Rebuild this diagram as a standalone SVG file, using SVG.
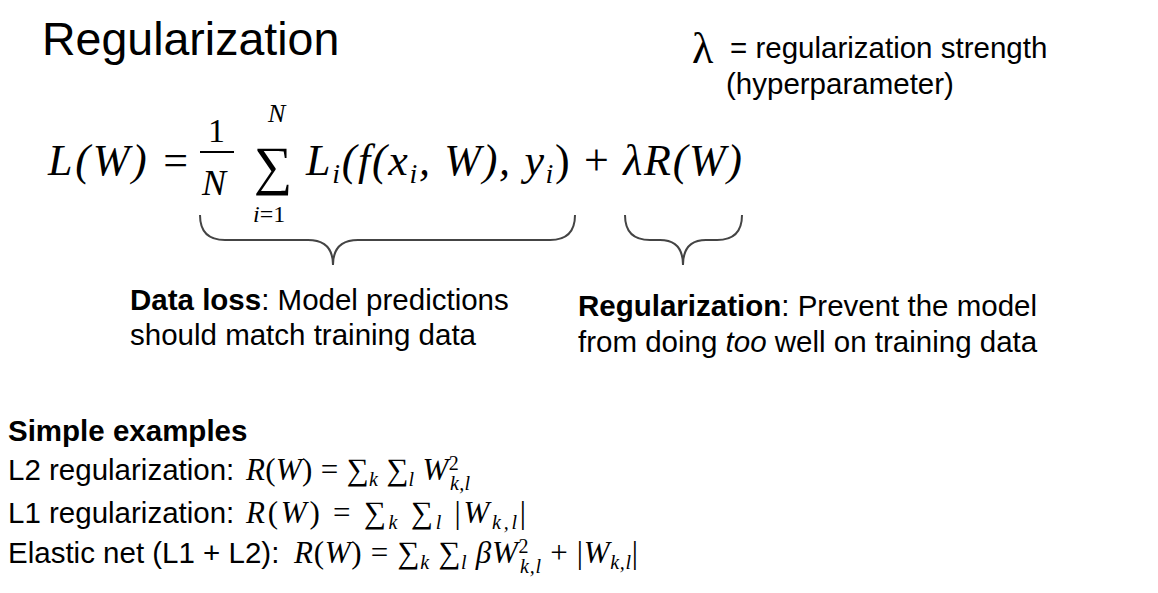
<svg xmlns="http://www.w3.org/2000/svg" width="1158" height="593" viewBox="0 0 1158 593">
<style>
.s{font-family:"Liberation Sans",Arial,sans-serif;fill:#000}
.m{font-family:"Liberation Serif","DejaVu Serif",serif;fill:#000}
.i{font-style:italic}
.b{fill:none;stroke:#444;stroke-width:2}
</style>
<rect width="1158" height="593" fill="#fff"/>
<text class="s" x="42" y="55" font-size="46.5">Regularization</text>
<g id="lambda">
<text class="m" x="692" y="63" font-size="44">λ</text>
<text class="s" x="730" y="58" font-size="29.5">= regularization strength</text>
<text class="s" x="726" y="94" font-size="29.5">(hyperparameter)</text>
</g>
<g id="formula">
<text class="m i" x="48" y="175" font-size="44" textLength="140" lengthAdjust="spacing">L(W) <tspan font-style="normal">=</tspan></text>
<text class="m" x="208" y="142" font-size="34">1</text>
<line x1="200" y1="152" x2="234" y2="152" stroke="#000" stroke-width="2"/>
<text class="m i" x="202" y="195" font-size="36">N</text>
<text class="m i" x="268" y="122" font-size="26">N</text>
<text class="m" x="254" y="184" font-size="54">∑</text>
<text class="m" x="253" y="222" font-size="24"><tspan class="i">i</tspan>=1</text>
<text class="m i" x="306" y="175" font-size="44" textLength="436" lengthAdjust="spacing">L<tspan font-size="28" dy="8">i</tspan><tspan dy="-8">(f(x</tspan><tspan font-size="28" dy="8">i</tspan><tspan dy="-8">, W), y</tspan><tspan font-size="28" dy="8">i</tspan><tspan dy="-8" font-style="normal">) + </tspan>λR(W)</text>
</g>
<g id="connectors">
<path class="b" d="M200,215 Q200,240 225,240 L308,240 Q333,240 333,265 Q333,240 358,240 L550,240 Q575,240 575,215"/>
<path class="b" d="M625,215 Q625,240 650,240 L660,240 Q683,240 683,265 Q683,240 706,240 L717,240 Q742,240 742,215"/>
</g>
<g id="dataloss">
<text class="s" x="130" y="310" font-size="29.5"><tspan font-weight="bold">Data loss</tspan>: Model predictions</text>
<text class="s" x="130" y="345" font-size="29.5">should match training data</text>
</g>
<g id="reg">
<text class="s" x="578" y="316" font-size="29.5"><tspan font-weight="bold">Regularization</tspan>: Prevent the model</text>
<text class="s" x="578" y="352" font-size="29.5">from doing <tspan font-style="italic">too</tspan> well on training data</text>
</g>
<g id="examples">
<text class="s" x="8" y="441" font-size="29.5" font-weight="bold">Simple examples</text>
<text class="s" x="8" y="480" font-size="29.5">L2 regularization:</text>
<text class="m" x="246" y="480" font-size="31" textLength="224" lengthAdjust="spacing"><tspan class="i">R</tspan>(<tspan class="i">W</tspan>) = ∑<tspan class="i" font-size="20" dy="6">k</tspan><tspan dy="-6"> ∑</tspan><tspan class="i" font-size="20" dy="6">l</tspan><tspan class="i" dy="-6"> W</tspan><tspan font-size="20" dy="-10">2</tspan><tspan class="i" font-size="20" dx="-9" dy="20">k,l</tspan></text>
<text class="s" x="8" y="523" font-size="29.5">L1 regularization:</text>
<text class="m" x="246" y="523" font-size="31" textLength="280" lengthAdjust="spacing"><tspan class="i">R</tspan>(<tspan class="i">W</tspan>) = ∑<tspan class="i" font-size="20" dy="6">k</tspan><tspan dy="-6"> ∑</tspan><tspan class="i" font-size="20" dy="6">l</tspan><tspan dy="-6"> |</tspan><tspan class="i">W</tspan><tspan class="i" font-size="20" dy="6">k,l</tspan><tspan dy="-6">|</tspan></text>
<text class="s" x="8" y="563" font-size="29.5">Elastic net (L1 + L2):</text>
<text class="m" x="294" y="563" font-size="31" textLength="344" lengthAdjust="spacing"><tspan class="i">R</tspan>(<tspan class="i">W</tspan>) = ∑<tspan class="i" font-size="20" dy="6">k</tspan><tspan dy="-6"> ∑</tspan><tspan class="i" font-size="20" dy="6">l</tspan><tspan class="i" dy="-6"> βW</tspan><tspan font-size="20" dy="-10">2</tspan><tspan class="i" font-size="20" dx="-9" dy="20">k,l</tspan><tspan dy="-10"> + |</tspan><tspan class="i">W</tspan><tspan class="i" font-size="20" dy="6">k,l</tspan><tspan dy="-6">|</tspan></text>
</g>
</svg>
